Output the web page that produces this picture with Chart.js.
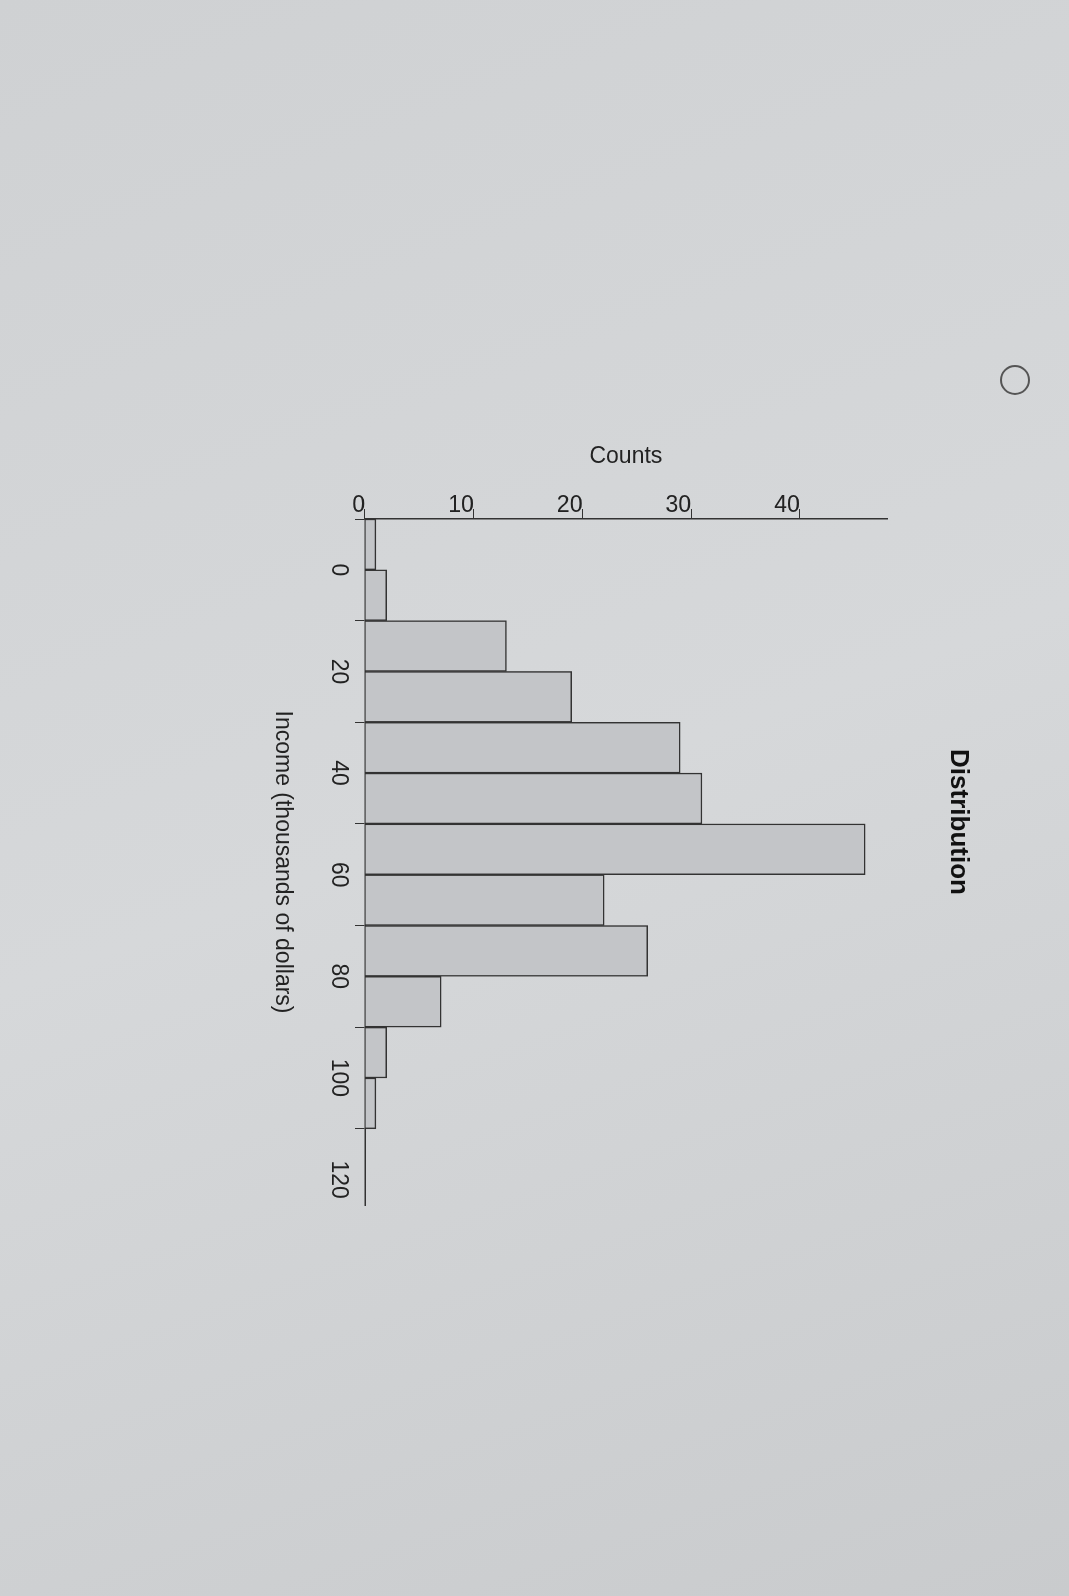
<!DOCTYPE html>
<html><head><meta charset="utf-8">
<script src="https://cdn.jsdelivr.net/npm/chart.js@4"></script>
<style>
html,body{margin:0;width:1069px;height:1596px;overflow:hidden;background:linear-gradient(160deg,#cfd1d3,#d6d8da 50%,#c9cbcd);}
#wrap{position:absolute;left:0;top:0;width:1596px;height:1069px;transform-origin:0 0;transform:translateX(1069px) rotate(90deg);}
#mark{position:absolute;left:1000px;top:365px;width:26px;height:26px;border:2px solid #555;border-radius:50%;}
</style></head><body>
<div id="wrap"><canvas id="c" width="1596" height="1069"></canvas></div>
<div id="mark"></div>
<script>
const binCenters=[-5,5,15,25,35,45,55,65,75,85,95,105];
const counts=[1,2,13,19,29,31,46,22,26,7,2,1];
const incomeTicks=[0,20,40,60,80,100,120];
const countTicks=[0,10,20,30,40];
const font='Liberation Sans, Arial, sans-serif';
new Chart(document.getElementById('c'),{
type:'bar',
data:{datasets:[{data:binCenters.map((x,i)=>({x:x,y:counts[i]})),backgroundColor:'#c3c5c8',borderColor:'#333',borderWidth:1.5,barPercentage:1,categoryPercentage:1}]},
options:{responsive:false,animation:false,
layout:{padding:{left:439,right:1596-1205,top:95,bottom:265}},
plugins:{legend:{display:false},tooltip:{enabled:false},
title:{display:true,text:'Distribution',font:{family:font,size:26,weight:'bold'},color:'#111',padding:{top:0,bottom:56}}},
scales:{
x:{type:'linear',offset:false,min:-10,max:125,afterFit:s=>{s.height=100;},
afterBuildTicks:s=>{s.ticks=incomeTicks.map(v=>({value:v}));},
grid:{display:true,drawOnChartArea:false,drawTicks:true,tickLength:10,color:'#333'},border:{display:true,color:'#333',width:1.5},
ticks:{font:{family:font,size:23},color:'#222',maxRotation:0},
title:{display:true,text:'Income (thousands of dollars)',font:{family:font,size:23},color:'#222'}},
y:{min:0,max:48,afterFit:s=>{s.width=80;},
afterBuildTicks:s=>{s.ticks=countTicks.map(v=>({value:v}));},
grid:{display:true,drawOnChartArea:false,tickLength:10,color:'#333'},border:{display:true,color:'#333',width:1.5},
ticks:{font:{family:font,size:23},color:'#222',minRotation:90,maxRotation:90},
title:{display:true,text:'Counts',font:{family:font,size:23},color:'#222'}}
}}});
</script></body></html>
